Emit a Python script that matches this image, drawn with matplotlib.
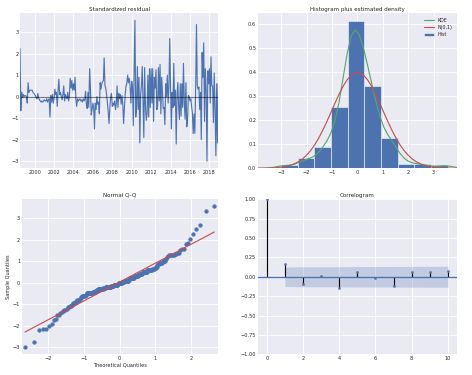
import numpy as np
import pandas as pd
import matplotlib
matplotlib.use('Agg')
import matplotlib.pyplot as plt
import matplotlib.dates as mdates
from statistics import NormalDist

# standardized residuals, monthly, Jun 1998 .. Nov 2018
resid = [
    2.25, -0.65, 0.2, -0.05, 0.1, 0.0, 0.05,
    0.05, 0.0, -0.3, 0.65, 0.2, 0.3, 0.3, 0.3, 0.3, 0.2, 0.15, 0.1,
    0.05, -0.05, -0.1, 0.15, -0.05, -0.15, -0.2, -0.25, -0.2, -0.25, -0.2, -0.15,
    -0.2, -0.2, -0.1, -0.25, -0.15, -0.1, -0.95, 0.05, -0.25, 0.1, -0.3, -0.1,
    0.35, 0.1, 0.2, -0.45, 0.25, 0.8, 0.1, 0.2, 0.0, -0.15, 0.1, 0.5,
    -0.2, 0.1, 0.0, -0.1, 0.2, -0.2, 0.0, 0.85, 0.4, 0.75, 0.3, 0.6,
    0.3, 0.9, -0.1, -0.45, -0.1, -0.2, -0.15, -0.1, -0.2, -0.15, -0.25, -0.1,
    -0.2, -0.15, 0.25, -0.35, -0.55, 0.2, -0.5, 1.3, 0.4, -0.85, -0.6, -0.3,
    -0.5, -1.5, -0.3, -0.6, 0.0, -0.35, -0.25, -0.8, 0.65, 0.35, 0.6, 0.7,
    0.75, 1.8, 0.5, 0.4, 0.1, -0.3, -0.7, -1.25, -0.5, 0.0, 0.15, -0.45,
    -0.3, -0.4, -0.2, -0.6, -0.3, 0.5, -0.5, 0.15, -0.1, 0.1, -0.35, 0.05,
    -0.4, -1.25, -0.5, 0.1, 0.5, 0.6, 1.0, 0.65, 0.85, 0.5, -0.3, 0.7,
    0.4, -1.35, 1.0, 3.55, -0.95, -0.5, 1.4, -0.6, 0.9, -2.15, 0.1, 0.5,
    1.4, -0.2, -1.9, 1.35, -0.4, -1.1, -0.8, 1.0, -0.95, 1.3, -0.5, 1.3,
    -0.3, 1.3, -1.15, 0.9, 0.4, 1.25, -0.6, -0.45, 1.35, -0.2, 1.5, -0.8,
    0.9, 0.2, -0.55, -0.5, -1.3, 0.6, 0.0, 1.0, -0.3, 0.5, 2.7, 0.4,
    -1.5, 0.2, -0.5, 1.55, -0.4, 0.3, -2.2, 0.1, 0.65, -0.5, -1.05, 0.6,
    -0.9, 0.6, -0.5, 1.55, -0.3, -1.05, 0.65, -1.4, -1.1, 0.05, 0.0, -0.2,
    -0.1, -0.45, -0.75, -1.72, -0.8, -1.7, 0.4, 3.35, 0.5, 0.35, 0.45, -0.6,
    0.2, -2.0, 2.05, 0.9, 2.5, -1.15, 1.3, 0.3, -3.0, 1.2, 0.6, 1.3,
    -0.3, 1.85, 0.5, 0.5, -1.2, 1.1, -0.5, -2.75, 0.6, -2.15, 0.6,
]
start_date = '1998-06-30'

# autocorrelations, lags 0..10
acf_vals = [1.0, 0.17, -0.09, 0.005, -0.15, 0.06, -0.018, -0.125, 0.06, 0.06, 0.08]

blue = '#4C72B0'
green = '#55A868'
red = '#C44E52'

plt.style.use('seaborn-v0_8-darkgrid')
plt.rcParams['font.family'] = ['DejaVu Sans']
plt.rcParams['axes.titlesize'] = 13
plt.rcParams['axes.labelsize'] = 11.5
plt.rcParams['xtick.labelsize'] = 11.5
plt.rcParams['ytick.labelsize'] = 11.5
plt.rcParams['legend.fontsize'] = 11
plt.rcParams['grid.linewidth'] = 2.0
plt.rcParams['text.color'] = '.15'
plt.rcParams['xtick.color'] = '.15'
plt.rcParams['ytick.color'] = '.15'
plt.rcParams['axes.labelcolor'] = '.15'

y = np.array(resid)
n = len(y)
dates = pd.date_range(start_date, periods=n, freq='ME')

fig = plt.figure(figsize=(15, 11.92))
W, H = 472.0, 375.0

def box(l, t, r, b):
    return [l / W, 1 - b / H, (r - l) / W, (b - t) / H]

# standardized residual
ax1 = fig.add_axes(box(20, 13.3, 218.3, 168.3))
ax1.plot(dates, y, color=blue, lw=2.6)
ax1.hlines(0, dates[0], dates[-1], color='k', alpha=0.5, lw=2.6)
ax1.set_xlim(dates[0], dates[-1])
ax1.xaxis.set_major_locator(mdates.YearLocator(2))
ax1.xaxis.set_major_formatter(mdates.DateFormatter('%Y'))
ax1.set_title('Standardized residual')

# histogram plus estimated density
ax2 = fig.add_axes(box(257.7, 13.3, 457, 168.3))
ax2.hist(y, density=True, label='Hist', color=blue, edgecolor='#FFFFFF', lw=1.2)
xs = np.linspace(-1.96 * 2, 1.96 * 2, 50)
bw = n ** (-1 / 5) * y.std(ddof=1)
kde = np.exp(-0.5 * ((xs[:, None] - y[None, :]) / bw) ** 2).sum(axis=1) / (n * bw * np.sqrt(2 * np.pi))
nd = NormalDist()
ax2.plot(xs, kde, color=green, lw=2.6, label='KDE')
ax2.plot(xs, [nd.pdf(v) for v in xs], color=red, lw=2.6, label='N(0,1)')
ax2.set_xlim(-1.96 * 2, 1.96 * 2)
handles, labels = ax2.get_legend_handles_labels()
order = [labels.index('KDE'), labels.index('N(0,1)'), labels.index('Hist')]
ax2.legend([handles[i] for i in order], [labels[i] for i in order], loc='upper right')
ax2.set_title('Histogram plus estimated density')

# normal Q-Q
ax3 = fig.add_axes(box(21.7, 199.3, 218.3, 354.3))
ys = np.sort(y)
theo = np.array([nd.inv_cdf(i / (n + 1)) for i in range(1, n + 1)])
ax3.plot(theo, ys, 'o', color=blue, markersize=8.5)
ax3.plot(theo, theo * y.std() + y.mean(), '-', color=red, lw=2.6)
ax3.set_xlim(-2.74, 2.76)
ax3.set_xlabel('Theoretical Quantiles')
ax3.set_ylabel('Sample Quantiles')
ax3.set_title('Normal Q-Q')

# correlogram
ax4 = fig.add_axes(box(257.7, 199.3, 457, 354.3))
acf = np.array(acf_vals)
lags = np.arange(len(acf))
varacf = np.ones(len(acf)) / n
varacf[0] = 0
varacf[2:] *= 1 + 2 * np.cumsum(acf[1:-1] ** 2)
half = nd.inv_cdf(0.975) * np.sqrt(varacf)
ax4.vlines(lags, 0, acf, color='k', lw=2.6)
ax4.axhline(0, color=blue, lw=3)
ax4.plot(lags, acf, 'o', color=blue, markersize=5)
ax4.fill_between(lags[1:], -half[1:], half[1:], color=blue, alpha=0.25, lw=0)
ax4.set_xlim(-0.5, 10.5)
ax4.set_ylim(-1, 1)
ax4.set_title('Correlogram')

fig.savefig('out.png', dpi=472 / 15)
